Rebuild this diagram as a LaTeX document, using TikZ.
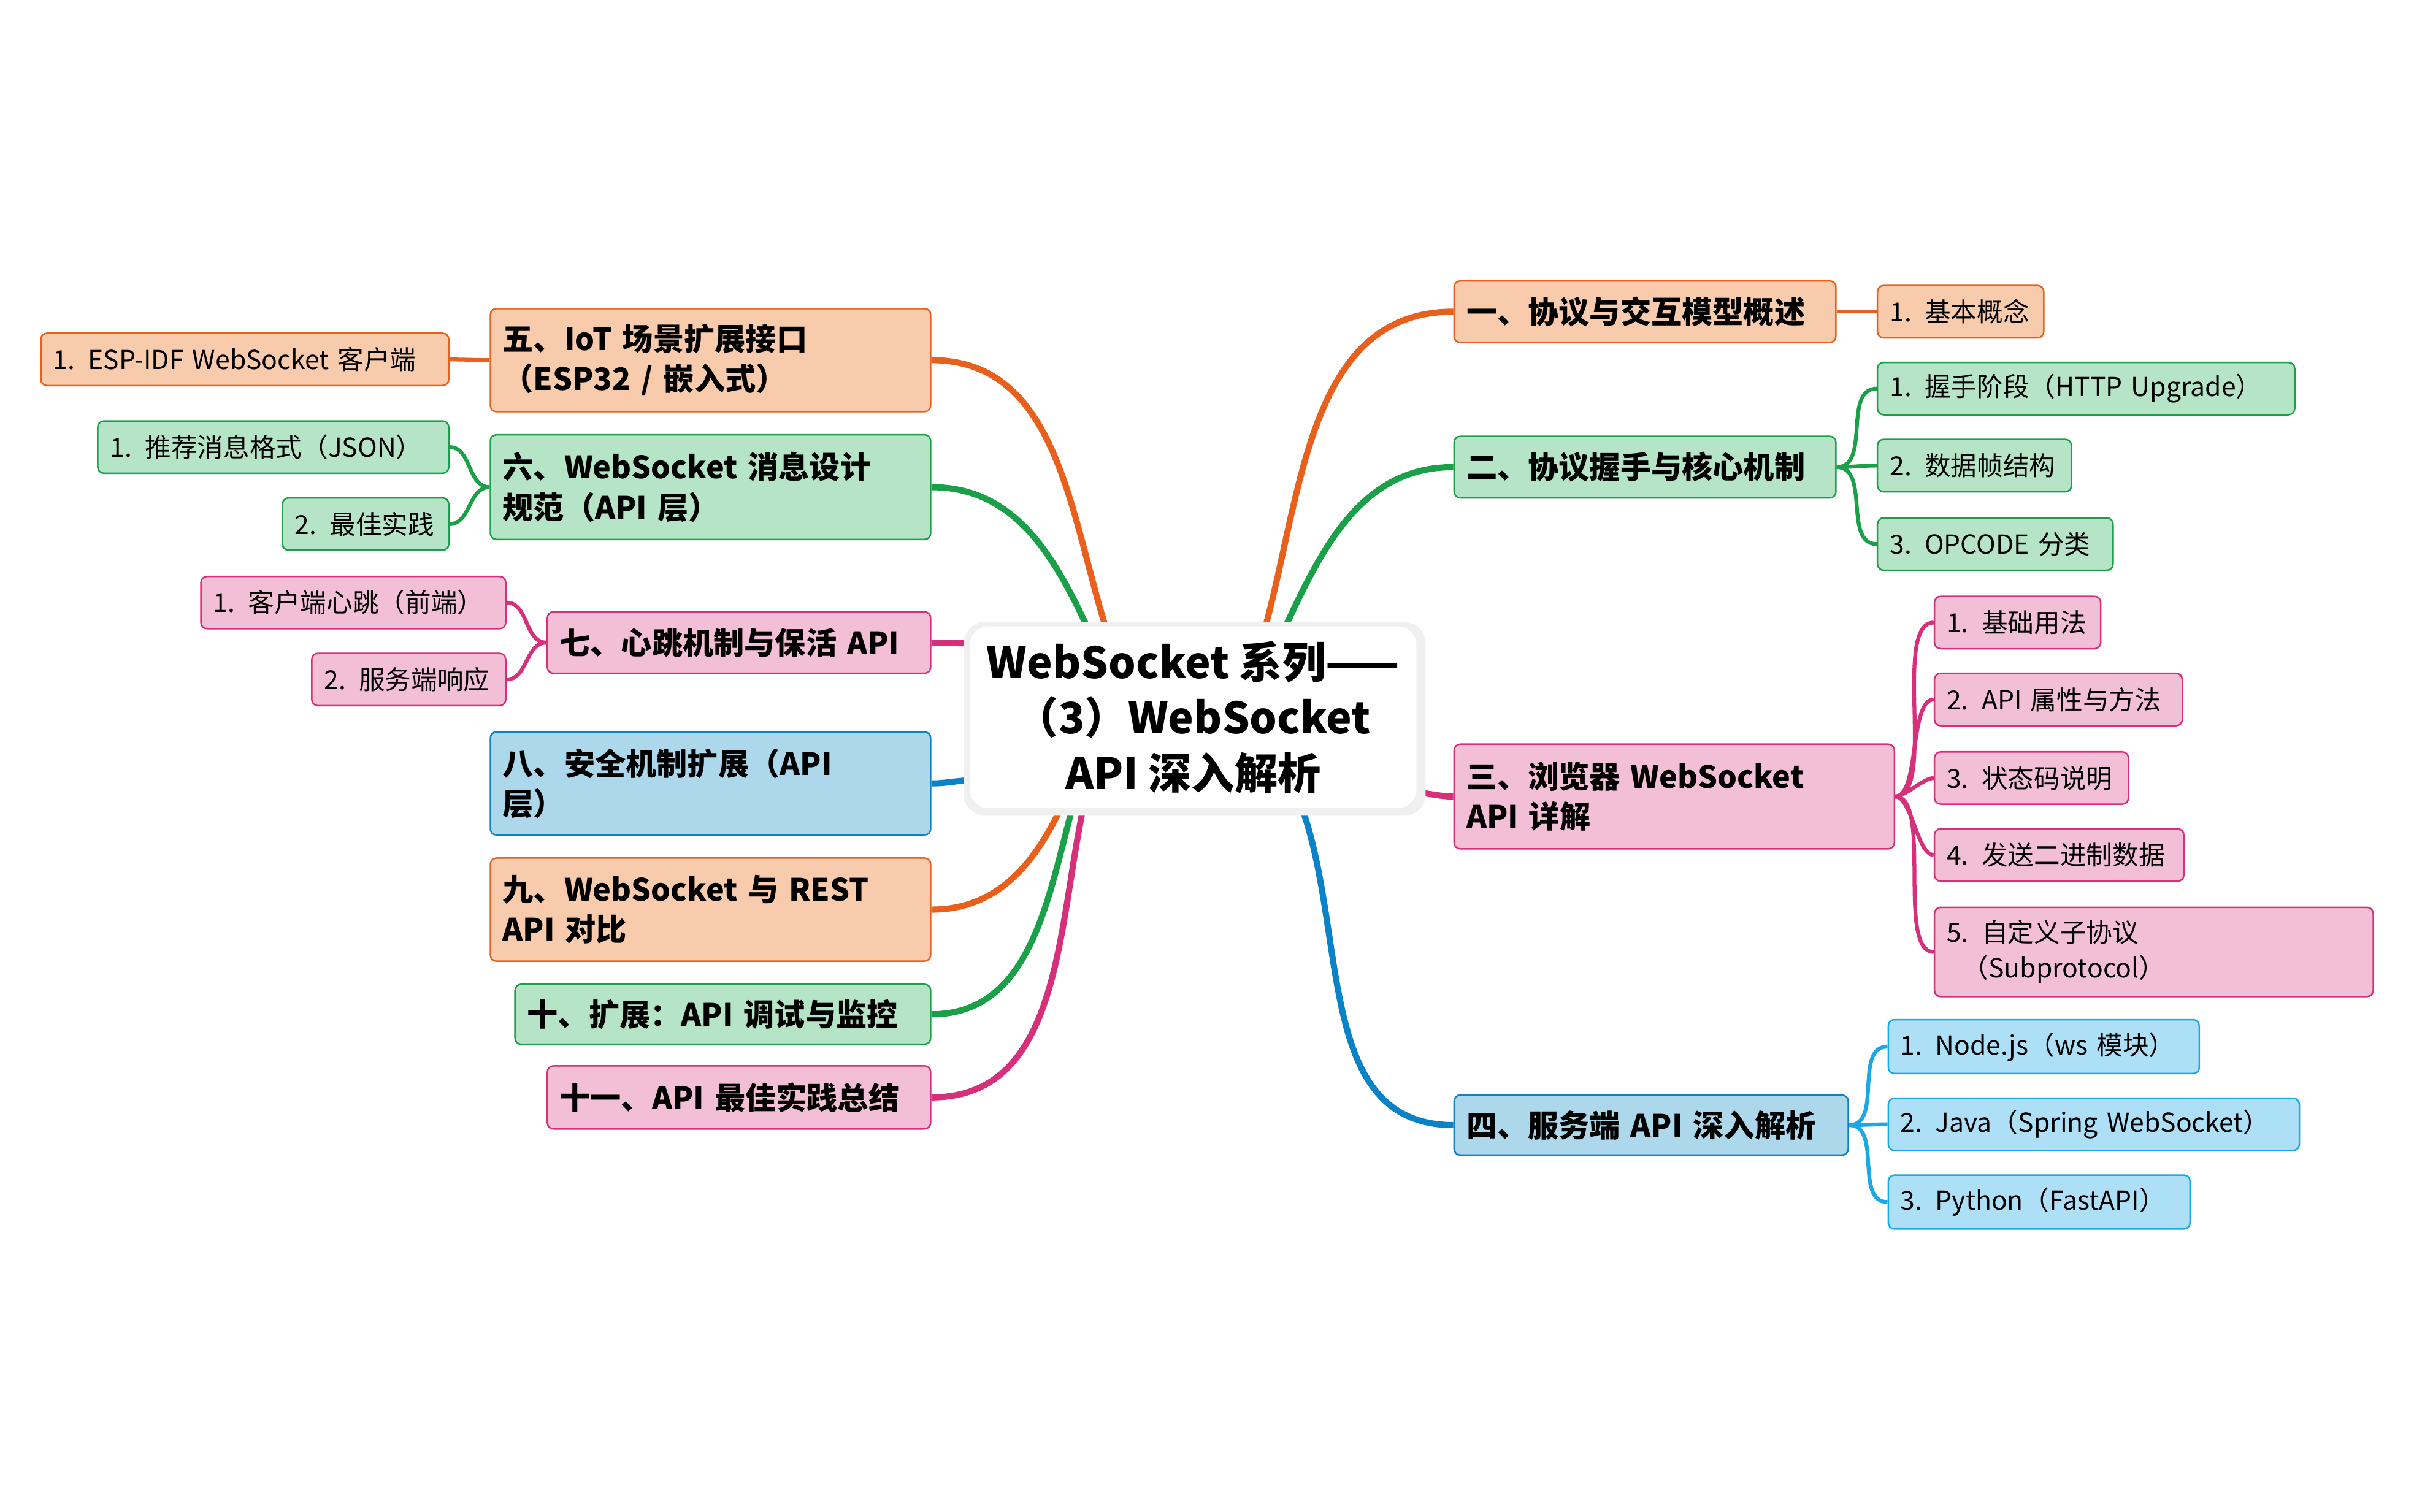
\documentclass[tikz,border=0pt]{standalone}
\usepackage{fontspec}
\setmainfont{Noto Sans CJK SC}
\usetikzlibrary{calc}
\definecolor{oS}{HTML}{E8601C}\definecolor{oF}{HTML}{F8CBAD}
\definecolor{gS}{HTML}{1BA04A}\definecolor{gF}{HTML}{B5E5C6}
\definecolor{pS}{HTML}{D6307A}\definecolor{pF}{HTML}{F3BFD6}
\definecolor{bS}{HTML}{0A82C8}\definecolor{bF}{HTML}{ADD8EC}
\definecolor{cS}{HTML}{1BA8E8}\definecolor{cF}{HTML}{ADDFF7}
\newcommand\bx[7]{\node[#2,anchor=north west,minimum height=#6pt,text width=#5pt-16pt,inner xsep=8pt,inner ysep=2pt,align=left] (#1) at (#3,-#4) {#7};}
\tikzset{
 box/.style={draw,rounded corners=4pt,line width=1pt},
 mainb/.style={box,font=\fontsize{20}{26}\selectfont\bfseries},
 subb/.style={box,font=\fontsize{17}{23}\selectfont},
 mo/.style={mainb,draw=oS,fill=oF}, so/.style={subb,draw=oS,fill=oF},
 mg/.style={mainb,draw=gS,fill=gF}, sg/.style={subb,draw=gS,fill=gF},
 mp/.style={mainb,draw=pS,fill=pF}, sp/.style={subb,draw=pS,fill=pF},
 mb/.style={mainb,draw=bS,fill=bF}, sb/.style={subb,draw=cS,fill=cF},
 br/.style={line width=4pt},
 sl/.style={line width=2.5pt},
}
\begin{document}
\begin{tikzpicture}[x=1pt,y=1pt]
\useasboundingbox (0,0) rectangle (1568,-982);
\coordinate (s1) at (822,-407); \coordinate (s2) at (835,-407);
\coordinate (s3) at (918,-515); \coordinate (s4) at (845,-523);
\coordinate (s5) at (718,-407); \coordinate (s6) at (706,-407);
\coordinate (s7) at (632,-418); \coordinate (s8) at (632,-507);
\coordinate (s9) at (690,-523); \coordinate (s10) at (697,-523); \coordinate (s11) at (704,-523);
\bx{n1}{mo}{944}{182}{248}{40}{一、协议与交互模型概述}
\bx{n2}{mg}{944}{283}{248}{40}{二、协议握手与核心机制}
\bx{n3}{mp}{944}{483}{286}{68}{三、浏览器 WebSocket\\API 详解}
\bx{n4}{mb}{944}{711}{256}{39}{四、服务端 API 深入解析}
\bx{n5}{mo}{318}{200}{286}{67}{五、IoT 场景扩展接口\\（ESP32 / 嵌入式）}
\bx{n6}{mg}{318}{282}{286}{68}{六、WebSocket 消息设计\\规范（API 层）}
\bx{n7}{mp}{355}{397}{249}{40}{七、心跳机制与保活 API}
\bx{n8}{mb}{318}{475}{286}{67}{八、安全机制扩展（API\\层）}
\bx{n9}{mo}{318}{557}{286}{67}{九、WebSocket 与 REST\\API 对比}
\bx{n10}{mg}{334}{639}{270}{39}{十、扩展：API 调试与监控}
\bx{n11}{mp}{355}{692}{249}{41}{十一、API 最佳实践总结}
\bx{a1}{so}{1219}{185}{108}{34}{1. 基本概念}
\bx{b1}{sg}{1219}{235}{271}{34}{1. 握手阶段（HTTP Upgrade）}
\bx{b2}{sg}{1219}{285}{126}{34}{2. 数据帧结构}
\bx{b3}{sg}{1219}{336}{153}{34}{3. OPCODE 分类}
\bx{c1}{sp}{1256}{387}{108}{34}{1. 基础用法}
\bx{c2}{sp}{1256}{437}{161}{34}{2. API 属性与方法}
\bx{c3}{sp}{1256}{488}{126}{34}{3. 状态码说明}
\bx{c4}{sp}{1256}{538}{162}{34}{4. 发送二进制数据}
\bx{c5}{sp}{1256}{589}{285}{58}{5. 自定义子协议\\\hspace*{0.6em}（Subprotocol）}
\bx{d1}{sb}{1226}{662}{202}{35}{1. Node.js（ws 模块）}
\bx{d2}{sb}{1226}{713}{267}{34}{2. Java（Spring WebSocket）}
\bx{d3}{sb}{1226}{763}{196}{35}{3. Python（FastAPI）}
\bx{e1}{so}{26}{216}{265}{34}{1. ESP-IDF WebSocket 客户端}
\bx{f1}{sg}{63}{273}{228}{34}{1. 推荐消息格式（JSON）}
\bx{f2}{sg}{183}{323}{108}{34}{2. 最佳实践}
\bx{g1}{sp}{130}{374}{198}{34}{1. 客户端心跳（前端）}
\bx{g2}{sp}{202}{424}{126}{34}{2. 服务端响应}
\draw[br,oS] (s1) to[out=75,in=180] (n1.west);
\draw[br,gS] (s2) to[out=65,in=180] (n2.west);
\draw[br,pS] (s3) to[out=0,in=180] (n3.west);
\draw[br,bS] (s4) to[out=-70,in=180] (n4.west);
\draw[br,oS] (s5) to[out=107,in=0] (n5.east);
\draw[br,gS] (s6) to[out=115,in=0] (n6.east);
\draw[br,pS] (s7) to[out=180,in=0] (n7.east);
\draw[br,bS] (s8) to[out=180,in=0] (n8.east);
\draw[br,oS] (s9) to[out=-115,in=0] (n9.east);
\draw[br,gS] (s10) to[out=-105,in=0] (n10.east);
\draw[br,pS] (s11) to[out=-102,in=0] (n11.east);
\draw[sl,oS] (n1.east) -- (a1.west);
\foreach \t in {b1,b2,b3} \draw[sl,gS] (n2.east) to[out=0,in=180] (\t.west);
\foreach \t in {c1,c2,c3,c4,c5} \draw[sl,pS] (n3.east) to[out=0,in=180,looseness=0.6] (\t.west);
\foreach \t in {d1,d2,d3} \draw[sl,cS] (n4.east) to[out=0,in=180] (\t.west);
\draw[sl,oS] (n5.west) -- (e1.east);
\foreach \t in {f1,f2} \draw[sl,gS] (n6.west) to[out=180,in=0] (\t.east);
\foreach \t in {g1,g2} \draw[sl,pS] (n7.west) to[out=180,in=0] (\t.east);
\fill[black!6,rounded corners=14pt] (626,-404) rectangle (926,-530);
\node[fill=white,rounded corners=12pt,minimum width=290pt,minimum height=118pt,align=center,
  font=\fontsize{28}{36}\selectfont\bfseries] (c) at (775,-466)
  {WebSocket 系列——\\（3）WebSocket\\API 深入解析};
\end{tikzpicture}
\end{document}
